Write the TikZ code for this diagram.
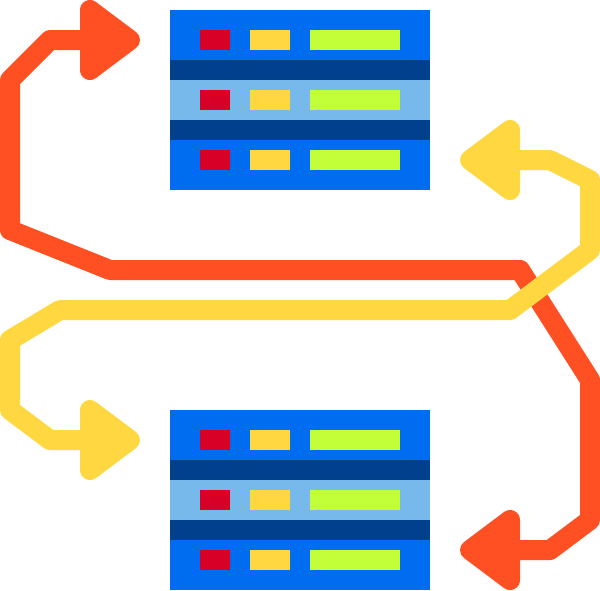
\documentclass[tikz,border=0pt]{standalone}
\definecolor{srvblue}{HTML}{006DF0}
\definecolor{srvdark}{HTML}{00408C}
\definecolor{srvlight}{HTML}{78B9EB}
\definecolor{ledred}{HTML}{D80027}
\definecolor{ledyellow}{HTML}{FFD740}
\definecolor{ledgreen}{HTML}{C3FF38}
\definecolor{flowred}{HTML}{FF5023}
\definecolor{flowyellow}{HTML}{FFD740}
\tikzset{
  flowline/.style={line width=20pt,line join=round,line cap=butt},
  flowhead/.style={line width=20pt,line join=round,draw=#1,fill=#1},
  band/.style={fill=#1,draw=none},
}
\newcommand{\serverrow}[1]{%
  \fill[ledred]    (200,#1) rectangle ++(30,20);
  \fill[ledyellow] (250,#1) rectangle ++(40,20);
  \fill[ledgreen]  (310,#1) rectangle ++(90,20);
}
\newcommand{\serverunit}[1]{%
  \begin{scope}[yshift=-#1pt]
    \fill[band=srvblue]  (170,10) rectangle (430,190);
    \fill[band=srvdark]  (170,60) rectangle (430,80);
    \fill[band=srvlight] (170,80) rectangle (430,120);
    \fill[band=srvdark]  (170,120) rectangle (430,140);
    \serverrow{30}
    \serverrow{90}
    \serverrow{150}
  \end{scope}
}
\begin{document}
\begin{tikzpicture}[x=1pt,y=-1pt]
  \useasboundingbox (0,0) rectangle (600,590);
  \serverunit{0}
  \serverunit{400}
  % red flow
  \coordinate (ra) at (90,40);
  \coordinate (rb) at (510,550);
  \draw[flowline,flowred] (ra) -- (50,40) -- (10,80) -- (10,230) -- (110,270)
    -- (520,270) -- (590,380) -- (590,520) -- (550,550) -- (rb);
  \draw[flowhead=flowred] (90,10) -- (130,40) -- (90,70) -- cycle;
  \draw[flowhead=flowred] (510,520) -- (470,550) -- (510,580) -- cycle;
  % yellow flow
  \coordinate (ya) at (510,160);
  \coordinate (yb) at (90,440);
  \draw[flowline,flowyellow] (ya) -- (550,160) -- (590,180) -- (590,250) -- (510,310)
    -- (60,310) -- (10,340) -- (10,410) -- (50,440) -- (yb);
  \draw[flowhead=flowyellow] (510,130) -- (470,160) -- (510,190) -- cycle;
  \draw[flowhead=flowyellow] (90,410) -- (130,440) -- (90,470) -- cycle;
\end{tikzpicture}
\end{document}
